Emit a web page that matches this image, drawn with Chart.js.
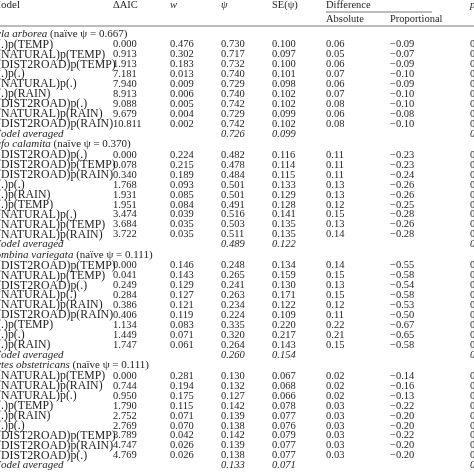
<!DOCTYPE html>
<html>
<head>
<meta charset="utf-8">
<script src="https://cdn.jsdelivr.net/npm/chart.js@4"></script>
<style>
  html, body { margin: 0; padding: 0; background: #fff; }
  #wrap { width: 474px; height: 474px; }
</style>
</head>
<body>
<div id="wrap"><canvas id="table"></canvas></div>
<script>
// Table content
var species = ['Hyla arborea', 'Bufo calamita', 'Bombina variegata', 'Alytes obstetricans'];
var naive = ['0.667', '0.370', '0.111', '0.111'];

var models = [
  ['ψ(.)p(TEMP)', 'ψ(NATURAL)p(TEMP)', 'ψ(DIST2ROAD)p(TEMP)', 'ψ(.)p(.)', 'ψ(NATURAL)p(.)', 'ψ(.)p(RAIN)', 'ψ(DIST2ROAD)p(.)', 'ψ(NATURAL)p(RAIN)', 'ψ(DIST2ROAD)p(RAIN)'],
  ['ψ(DIST2ROAD)p(.)', 'ψ(DIST2ROAD)p(TEMP)', 'ψ(DIST2ROAD)p(RAIN)', 'ψ(.)p(.)', 'ψ(.)p(RAIN)', 'ψ(.)p(TEMP)', 'ψ(NATURAL)p(.)', 'ψ(NATURAL)p(TEMP)', 'ψ(NATURAL)p(RAIN)'],
  ['ψ(DIST2ROAD)p(TEMP)', 'ψ(NATURAL)p(TEMP)', 'ψ(DIST2ROAD)p(.)', 'ψ(NATURAL)p(.)', 'ψ(NATURAL)p(RAIN)', 'ψ(DIST2ROAD)p(RAIN)', 'ψ(.)p(TEMP)', 'ψ(.)p(.)', 'ψ(.)p(RAIN)'],
  ['ψ(NATURAL)p(TEMP)', 'ψ(NATURAL)p(RAIN)', 'ψ(NATURAL)p(.)', 'ψ(.)p(TEMP)', 'ψ(.)p(RAIN)', 'ψ(.)p(.)', 'ψ(DIST2ROAD)p(TEMP)', 'ψ(DIST2ROAD)p(RAIN)', 'ψ(DIST2ROAD)p(.)']
];
var dAIC = [
  ['0.000', '0.913', '1.913', '7.181', '7.940', '8.913', '9.088', '9.679', '10.811'],
  ['0.000', '0.078', '0.340', '1.768', '1.931', '1.951', '3.474', '3.684', '3.722'],
  ['0.000', '0.041', '0.249', '0.284', '0.386', '0.406', '1.134', '1.449', '1.747'],
  ['0.000', '0.744', '0.950', '1.790', '2.752', '2.769', '3.789', '4.747', '4.769']
];
var weight = [
  ['0.476', '0.302', '0.183', '0.013', '0.009', '0.006', '0.005', '0.004', '0.002'],
  ['0.224', '0.215', '0.189', '0.093', '0.085', '0.084', '0.039', '0.035', '0.035'],
  ['0.146', '0.143', '0.129', '0.127', '0.121', '0.119', '0.083', '0.071', '0.061'],
  ['0.281', '0.194', '0.175', '0.115', '0.071', '0.070', '0.042', '0.026', '0.026']
];
var psi = [
  ['0.730', '0.717', '0.732', '0.740', '0.729', '0.740', '0.742', '0.729', '0.742'],
  ['0.482', '0.478', '0.484', '0.501', '0.501', '0.491', '0.516', '0.503', '0.511'],
  ['0.248', '0.265', '0.241', '0.263', '0.234', '0.224', '0.335', '0.320', '0.264'],
  ['0.130', '0.132', '0.127', '0.142', '0.139', '0.138', '0.142', '0.139', '0.138']
];
var sePsi = [
  ['0.100', '0.097', '0.100', '0.101', '0.098', '0.102', '0.102', '0.099', '0.102'],
  ['0.116', '0.114', '0.115', '0.133', '0.129', '0.128', '0.141', '0.135', '0.135'],
  ['0.134', '0.159', '0.130', '0.171', '0.122', '0.109', '0.220', '0.217', '0.143'],
  ['0.067', '0.068', '0.066', '0.078', '0.077', '0.076', '0.079', '0.077', '0.077']
];
var diffAbs = [
  ['0.06', '0.05', '0.06', '0.07', '0.06', '0.07', '0.08', '0.06', '0.08'],
  ['0.11', '0.11', '0.11', '0.13', '0.13', '0.12', '0.15', '0.13', '0.14'],
  ['0.14', '0.15', '0.13', '0.15', '0.12', '0.11', '0.22', '0.21', '0.15'],
  ['0.02', '0.02', '0.02', '0.03', '0.03', '0.03', '0.03', '0.03', '0.03']
];
var diffProp = [
  ['−0.09', '−0.07', '−0.09', '−0.10', '−0.09', '−0.10', '−0.10', '−0.08', '−0.10'],
  ['−0.23', '−0.23', '−0.24', '−0.26', '−0.26', '−0.25', '−0.28', '−0.26', '−0.28'],
  ['−0.55', '−0.58', '−0.54', '−0.58', '−0.53', '−0.50', '−0.67', '−0.65', '−0.58'],
  ['−0.14', '−0.16', '−0.13', '−0.22', '−0.20', '−0.20', '−0.22', '−0.20', '−0.20']
];
var avgPsi = ['0.726', '0.489', '0.260', '0.133'];
var avgSe = ['0.099', '0.122', '0.154', '0.071'];
// last column is cut off by the picture edge: only "0." shows
var pVisible = '0..';

// column left edges, in table units
var colX = {model: 1, aic: 113, w: 170, psi: 221, se: 272, abs: 326, prop: 390, p: 470};

var SERIF = '"Liberation Serif", "DejaVu Serif", serif';
var INK = '#1e1e1e';

var tablePlugin = {
  id: 'tableText',
  afterDraw: function(chart) {
    var ctx = chart.ctx;
    var xs = chart.scales.x, ys = chart.scales.y;
    function X(v) { return xs.getPixelForValue(v); }
    function Y(v) { return ys.getPixelForValue(v); }
    function txt(s, x, y, style, hide, size) {
      ctx.font = style + ' ' + (size || 10.5) + 'px ' + SERIF;
      var off = hide ? ctx.measureText(hide).width : 0;
      ctx.fillText(s, X(x) - off, Y(y));
    }
    ctx.save();
    ctx.fillStyle = INK;
    ctx.strokeStyle = '#555';
    ctx.textBaseline = 'middle';
    ctx.textAlign = 'left';

    // header
    txt('Model', colX.model, 5, '', 'M', 11);
    txt('ΔAIC', colX.aic, 5, '');
    txt('w', colX.w, 5, 'italic');
    txt('ψ', colX.psi, 5, 'italic');
    txt('SE(ψ)', colX.se, 5, '');
    txt('Difference', colX.abs, 5, '');
    txt('Absolute', colX.abs, 19, '');
    txt('Proportional', colX.prop, 19, '');
    txt('p', colX.p, 5, 'italic');
    ctx.lineWidth = 0.8;
    ctx.beginPath();
    ctx.moveTo(X(colX.abs), Y(12)); ctx.lineTo(X(432), Y(12));
    ctx.moveTo(X(0), Y(26)); ctx.lineTo(X(474), Y(26));
    ctx.stroke();

    var step = 9.95;
    for (var g = 0; g < species.length; g++) {
      var top = 34 + g * 110.5;
      var sp = species[g];
      var hidden = sp.slice(0, [2, 2, 2, 3][g]);
      ctx.font = 'italic 11px ' + SERIF;
      var shift = ctx.measureText(hidden).width;
      var w1 = ctx.measureText(sp).width;
      txt(sp, colX.model, top, 'italic', hidden, 11);
      ctx.font = '11px ' + SERIF;
      ctx.fillText(' (naïve ψ = ' + naive[g] + ')', X(colX.model) - shift + w1, Y(top));
      for (var r = 0; r < models[g].length; r++) {
        var y = top + 10.5 + r * step;
        txt(models[g][r], colX.model, y, '', 'ψ(', 11.8);
        txt(dAIC[g][r], colX.aic, y, '');
        txt(weight[g][r], colX.w, y, '');
        txt(psi[g][r], colX.psi, y, '');
        txt(sePsi[g][r], colX.se, y, '');
        txt(diffAbs[g][r], colX.abs, y, '');
        txt(diffProp[g][r], colX.prop, y, '');
        txt(pVisible, colX.p, y, '');
      }
      var ya = top + 10.5 + models[g].length * step;
      txt('Model averaged', colX.model, ya, 'italic', 'M', 11);
      txt(avgPsi[g], colX.psi, ya, 'italic');
      txt(avgSe[g], colX.se, ya, 'italic');
      txt('0.', colX.p, ya, 'italic');
    }
    ctx.restore();
  }
};

new Chart(document.getElementById('table'), {
  type: 'scatter',
  data: { datasets: [{ data: [] }] },
  options: {
    responsive: true,
    maintainAspectRatio: false,
    animation: false,
    layout: { padding: 0 },
    plugins: { legend: { display: false }, tooltip: { enabled: false } },
    scales: {
      x: { type: 'linear', min: 0, max: 474, display: false },
      y: { type: 'linear', min: 0, max: 474, reverse: true, display: false }
    }
  },
  plugins: [tablePlugin]
});
</script>
</body>
</html>
